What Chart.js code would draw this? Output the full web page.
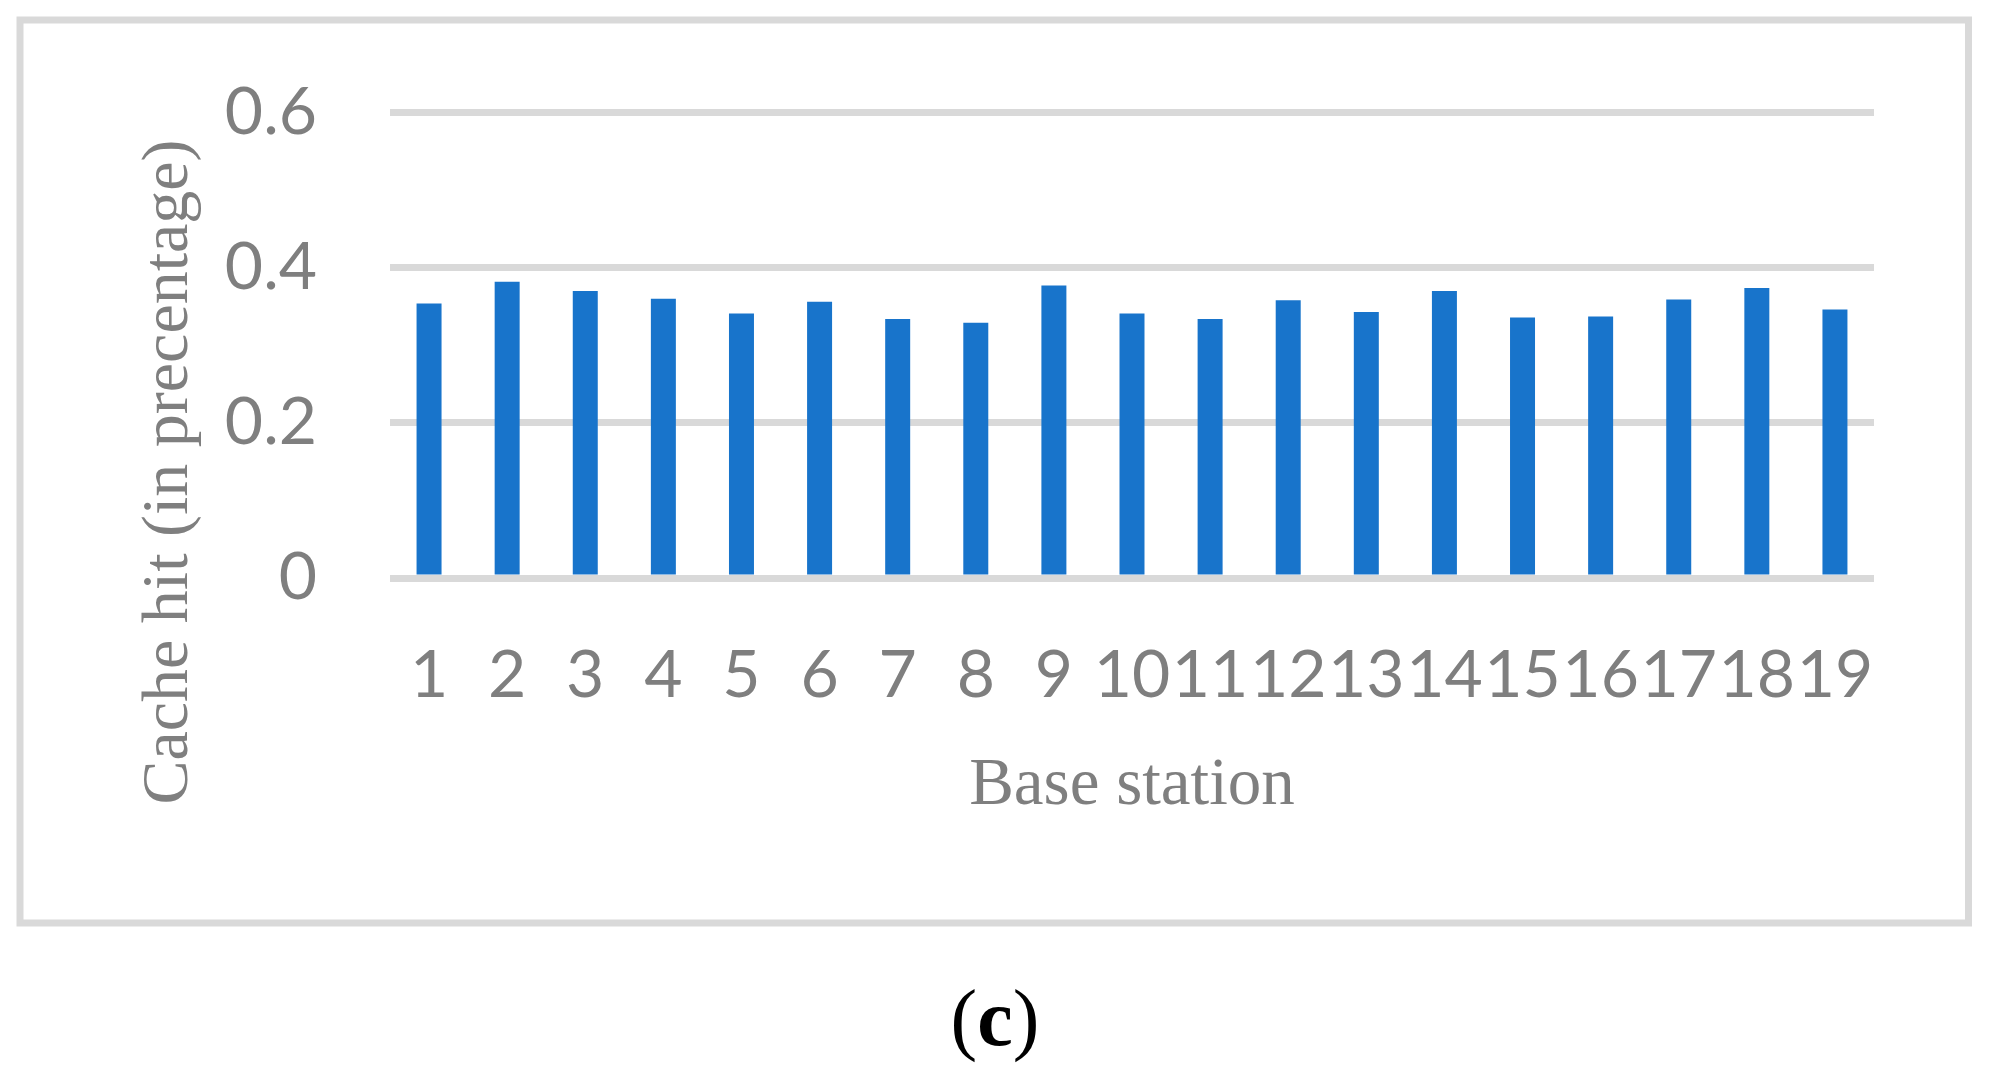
<!DOCTYPE html>
<html>
<head>
<meta charset="utf-8">
<title>Cache hit per base station</title>
<script src="https://cdn.jsdelivr.net/npm/chart.js@4.4.1/dist/chart.umd.min.js"></script>
<style>
  html, body { margin: 0; padding: 0; background: #fff; overflow: hidden; }
  #wrap { width: 1990px; height: 1080px; }
</style>
</head>
<body>
<div id="wrap"><canvas id="cacheChart" width="1990" height="1080"></canvas></div>
<script>
// values
const stations = ['1', '2', '3', '4', '5', '6', '7', '8', '9', '10',
                  '11', '12', '13', '14', '15', '16', '17', '18', '19'];
const cacheHit = [0.354, 0.382, 0.370, 0.360, 0.341, 0.356, 0.334, 0.329, 0.377, 0.341,
                  0.334, 0.358, 0.343, 0.370, 0.336, 0.337, 0.359, 0.374, 0.346];
const yTicks = [0, 0.2, 0.4, 0.6];
const xTitle = 'Base station';
const yTitle = 'Cache hit (in precentage)';
const caption = ['(', 'c', ')'];

const GREY = '#7f7f7f';
const SERIF = '"Liberation Serif", "Times New Roman", serif';

// frame round the chart, rotated y title and the (c) caption
const extras = {
    id: 'extras',
    afterDraw(chart) {
        const ctx = chart.ctx;
        ctx.save();

        ctx.strokeStyle = '#d9d9d9';
        ctx.lineWidth = 7;
        ctx.strokeRect(20, 20, 1948.5, 903);

        ctx.fillStyle = GREY;
        ctx.font = '66px ' + SERIF;
        ctx.textAlign = 'center';
        ctx.textBaseline = 'alphabetic';
        ctx.translate(187, 472);
        ctx.rotate(-Math.PI / 2);
        ctx.fillText(yTitle, 0, 0);
        ctx.setTransform(1, 0, 0, 1, 0, 0);

        // caption: "(" regular, "c" bold, ")" regular
        const fonts = ['80px ' + SERIF, 'bold 80px ' + SERIF, '80px ' + SERIF];
        let total = 0;
        const widths = caption.map((t, i) => {
            ctx.font = fonts[i];
            const w = ctx.measureText(t).width;
            total += w;
            return w;
        });
        let x = 995 - total / 2;
        ctx.fillStyle = '#000';
        ctx.textAlign = 'left';
        caption.forEach((t, i) => {
            ctx.font = fonts[i];
            ctx.fillText(t, x, 1045);
            x += widths[i];
        });
        ctx.restore();
    }
};

new Chart(document.getElementById('cacheChart'), {
    type: 'bar',
    data: {
        labels: stations,
        datasets: [{
            data: cacheHit,
            backgroundColor: '#1874cb',
            borderWidth: 0,
            categoryPercentage: 1,
            barPercentage: 0.32
        }]
    },
    options: {
        responsive: false,
        devicePixelRatio: 1,
        animation: false,
        layout: { padding: { left: 0, right: 116, top: 111.5, bottom: 0 } },
        plugins: { legend: { display: false }, tooltip: { enabled: false } },
        scales: {
            x: {
                grid: { display: false, drawTicks: false },
                border: { display: false },
                ticks: {
                    color: GREY,
                    font: { family: 'Lato', size: 66 },
                    padding: 58,
                    autoSkip: false,
                    maxRotation: 0,
                    minRotation: 0
                },
                title: {
                    display: true,
                    text: xTitle,
                    color: GREY,
                    font: { family: SERIF, size: 67 },
                    padding: { top: 0, bottom: 253 }
                },
                afterFit(axis) { axis.height = 502; }
            },
            y: {
                min: 0,
                max: 0.6,
                afterBuildTicks(axis) { axis.ticks = yTicks.map(v => ({ value: v })); },
                grid: { color: '#d9d9d9', lineWidth: 7, drawTicks: false },
                border: { display: false },
                ticks: {
                    color: GREY,
                    font: { family: 'Lato', size: 66 },
                    padding: 73,
                    callback: v => String(v)
                },
                afterFit(axis) { axis.width = 390; }
            }
        }
    },
    plugins: [extras]
});
</script>
</body>
</html>
